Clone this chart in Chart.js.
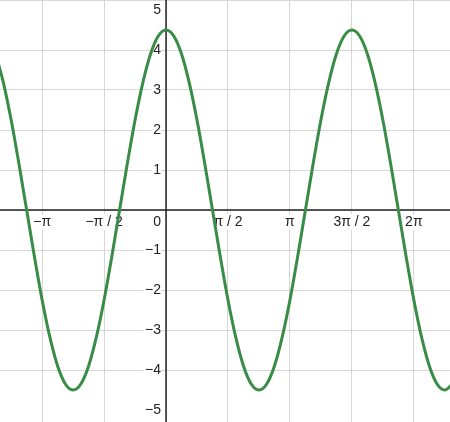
<!DOCTYPE html><html><head><script src="https://cdn.jsdelivr.net/npm/chart.js"></script>
<style>html,body{margin:0;background:#fff}#w{width:450px;height:422px}</style></head><body><div id="w"><canvas id="c"></canvas></div>
<script>
const kStart = -22; // sample index, x = k*PI/16
const yValues = [3.9,3.18,2.25,1.16,0,-1.16,-2.25,-3.18,-3.9,-4.35,-4.5,-4.35,-3.9,-3.18,-2.25,-1.16,0,1.16,2.25,3.18,3.9,4.35,
4.5,4.35,3.9,3.18,2.25,1.16,0,-1.16,-2.25,-3.18,-3.9,-4.35,-4.5,-4.35,-3.9,-3.18,-2.25,-1.16,0,1.16,2.25,3.18,3.9,4.35,
4.5,4.35,3.9,3.18,2.25,1.16,0,-1.16,-2.25,-3.18,-3.9,-4.35,-4.5,-4.35];
const xTickValues = [-1,-0.5,0.5,1,1.5,2]; // multiples of PI
const xTickLabels = ['\u2212\u03c0','\u2212\u03c0 / 2','\u03c0 / 2','\u03c0','3\u03c0 / 2','2\u03c0'];
const yTickValues = [-5,-4,-3,-2,-1,1,2,3,4,5];
const pts = yValues.map((y,i)=>({x:(kStart+i)*Math.PI/16,y}));
const labelPlugin={id:'lbl',beforeDatasetsDraw(ch){const c=ch.ctx,xs=ch.scales.x,ys=ch.scales.y;const x0=xs.getPixelForValue(0),y0=ys.getPixelForValue(0);
c.save();c.strokeStyle='#222';c.lineWidth=1.5;c.beginPath();c.moveTo(x0,0);c.lineTo(x0,ch.height);c.moveTo(0,y0);c.lineTo(ch.width,y0);c.stroke();
c.font='14px Arial, "Liberation Sans"';c.fillStyle='#222';
c.textAlign='center';c.textBaseline='top';
xTickValues.forEach((v,i)=>{const px=xs.getPixelForValue(v*Math.PI);const t=xTickLabels[i];const w=c.measureText(t).width;c.fillStyle='#fff';c.fillRect(px-w/2-1,y0+4,w+2,16);c.fillStyle='#222';c.fillText(t,px,y0+5);});
c.textAlign='right';c.textBaseline='middle';
yTickValues.forEach(v=>{const py=ys.getPixelForValue(v);const t=v<0?'\u2212'+(-v):String(v);const w=c.measureText(t).width;c.fillStyle='#fff';c.fillRect(x0-6-w-1,py-8,w+2,16);c.fillStyle='#222';c.fillText(t,x0-5,py);});
c.fillText('0',x0-5,y0+12);
c.restore();}};
new Chart(document.getElementById('c'),{type:'line',data:{datasets:[{data:pts,borderColor:'#388c46',borderWidth:3,pointRadius:0,tension:0.4,cubicInterpolationMode:'monotone',clip:false}]},
plugins:[labelPlugin],
options:{responsive:true,maintainAspectRatio:false,animation:false,layout:{padding:0},plugins:{legend:{display:false},tooltip:{enabled:false}},
scales:{x:{type:'linear',min:-4.21,max:7.2,afterBuildTicks(s){const t=[];for(let k=-3;k<=5;k++)t.push({value:k*Math.PI/2});s.ticks=t;},ticks:{display:false},grid:{color:'#d6d6d6',drawTicks:false},border:{display:false}},
y:{min:-5.3,max:5.25,ticks:{display:false,stepSize:1},grid:{color:'#d6d6d6',drawTicks:false},border:{display:false}}}}});
</script></body></html>
